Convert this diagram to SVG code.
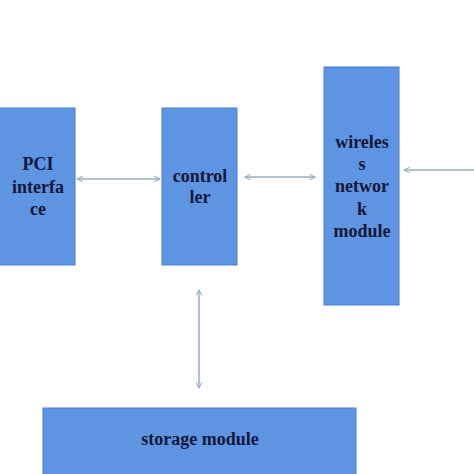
<svg xmlns="http://www.w3.org/2000/svg" width="474" height="474" viewBox="0 0 474 474">
<style>
.box{fill:#5e95e2;stroke:#4a7fcc;stroke-width:1}
.lbl{font-family:"Liberation Serif","Times New Roman",serif;font-weight:bold;font-size:18px;fill:#14163a;text-anchor:middle}
.con{stroke:#9aacc4;stroke-width:1.5;fill:none}
</style>
<defs>
<marker id="ah" viewBox="0 0 10 10" refX="9" refY="5" markerWidth="7" markerHeight="7" orient="auto-start-reverse" markerUnits="userSpaceOnUse">
<path d="M1,1 L9,5 L1,9" fill="none" stroke="#9aacc4" stroke-width="1.5"/>
</marker>
</defs>
<rect width="474" height="474" fill="#ffffff"/>
<g id="pci">
<rect class="box" x="-1" y="108" width="76" height="157"/>
<text class="lbl" x="38" y="170">PCI</text>
<text class="lbl" x="38" y="193">interfa</text>
<text class="lbl" x="38" y="215">ce</text>
</g>
<g id="controller">
<rect class="box" x="162" y="108" width="75" height="157"/>
<text class="lbl" x="200" y="182">control</text>
<text class="lbl" x="200" y="203">ler</text>
</g>
<g id="wireless">
<rect class="box" x="324" y="67" width="75" height="238"/>
<text class="lbl" x="362" y="148">wireles</text>
<text class="lbl" x="362" y="170">s</text>
<text class="lbl" x="362" y="192">networ</text>
<text class="lbl" x="362" y="215">k</text>
<text class="lbl" x="362" y="237">module</text>
</g>
<g id="storage">
<rect class="box" x="43" y="408" width="313" height="68"/>
<text class="lbl" x="200" y="445">storage module</text>
</g>
<g id="connectors">
<line class="con" x1="77" y1="179" x2="160" y2="179" marker-start="url(#ah)" marker-end="url(#ah)"/>
<line class="con" x1="245" y1="177" x2="315" y2="177" marker-start="url(#ah)" marker-end="url(#ah)"/>
<line class="con" x1="474" y1="170" x2="404" y2="170" marker-end="url(#ah)"/>
<line class="con" x1="199" y1="290" x2="199" y2="388" marker-start="url(#ah)" marker-end="url(#ah)"/>
</g>
</svg>
